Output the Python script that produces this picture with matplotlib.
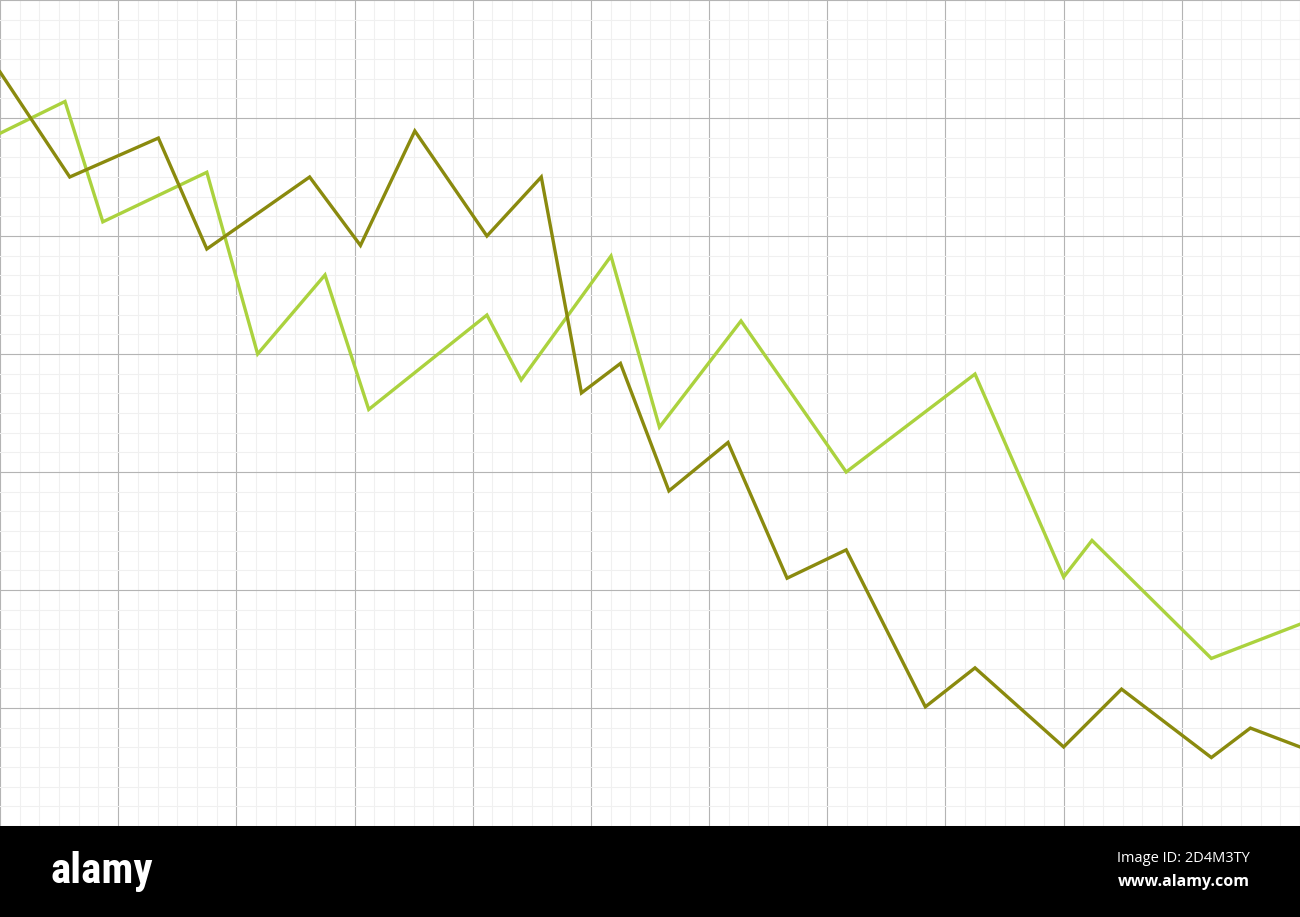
import matplotlib
matplotlib.use("Agg")
import matplotlib.pyplot as plt
from matplotlib.ticker import MultipleLocator

# values in grid units (one major cell = 1)
dark_x = [0, 0.59, 1.34, 1.75, 2.62, 3.05, 3.51, 4.12, 4.58, 4.92, 5.25, 5.66,
          6.16, 6.66, 7.16, 7.83, 8.25, 9.0, 9.49, 10.25, 10.58, 11.0]
dark_y = [6.39, 5.50, 5.83, 4.89, 5.50, 4.92, 5.89, 5.00, 5.50, 3.67, 3.92, 2.84,
          3.25, 2.10, 2.34, 1.01, 1.34, 0.67, 1.16, 0.58, 0.83, 0.67]
light_x = [0, 0.55, 0.87, 1.75, 2.18, 2.75, 3.12, 4.12, 4.41, 5.17, 5.58, 6.27,
           7.16, 8.25, 9.0, 9.24, 10.25, 11.0]
light_y = [5.87, 6.14, 5.12, 5.54, 4.00, 4.67, 3.53, 4.33, 3.78, 4.83, 3.38, 4.28,
           3.00, 3.83, 2.11, 2.42, 1.42, 1.71]

DARK, LIGHT = "#8a8a0e", "#abd23e"

fig = plt.figure(figsize=(13, 9.17), dpi=100, facecolor="black")
ax = fig.add_axes([0, 91 / 917, 1, 826 / 917])
ax.set_facecolor("white")
ax.set_xlim(0, 11.0)
ax.set_ylim(0, 7.0)

ax.xaxis.set_major_locator(MultipleLocator(1))
ax.yaxis.set_major_locator(MultipleLocator(1))
ax.xaxis.set_minor_locator(MultipleLocator(1 / 6))
ax.yaxis.set_minor_locator(MultipleLocator(1 / 6))
ax.grid(which="minor", color="#f0f0f0", linewidth=0.75)
ax.grid(which="major", color="#b4b4b4", linewidth=0.8)
ax.set_axisbelow(True)
ax.tick_params(which="both", length=0, labelbottom=False, labelleft=False)
for s in ax.spines.values():
    s.set_visible(False)

ax.plot(light_x, light_y, color=LIGHT, lw=2.4, solid_joinstyle="miter")
ax.plot(dark_x, dark_y, color=DARK, lw=2.4, solid_joinstyle="miter")

# watermark bar
fig.text(50 / 1300, 1 - 871 / 917, "alamy", color="white", fontsize=31,
         fontweight="bold", fontstretch="condensed",
         family=["Roboto Condensed", "Liberation Sans Narrow", "DejaVu Sans"],
         ha="left", va="center")
fig.text(1250 / 1300, 1 - 859 / 917, "Image ID: 2D4M3TY", color="white",
         fontsize=10.5, family=["Open Sans", "DejaVu Sans"], ha="right", va="center")
fig.text(1250 / 1300, 1 - 882 / 917, "www.alamy.com", color="white",
         fontsize=11.5, fontweight="bold", family=["Open Sans", "DejaVu Sans"],
         ha="right", va="center")

fig.savefig("out.png", dpi=100, facecolor="black")
